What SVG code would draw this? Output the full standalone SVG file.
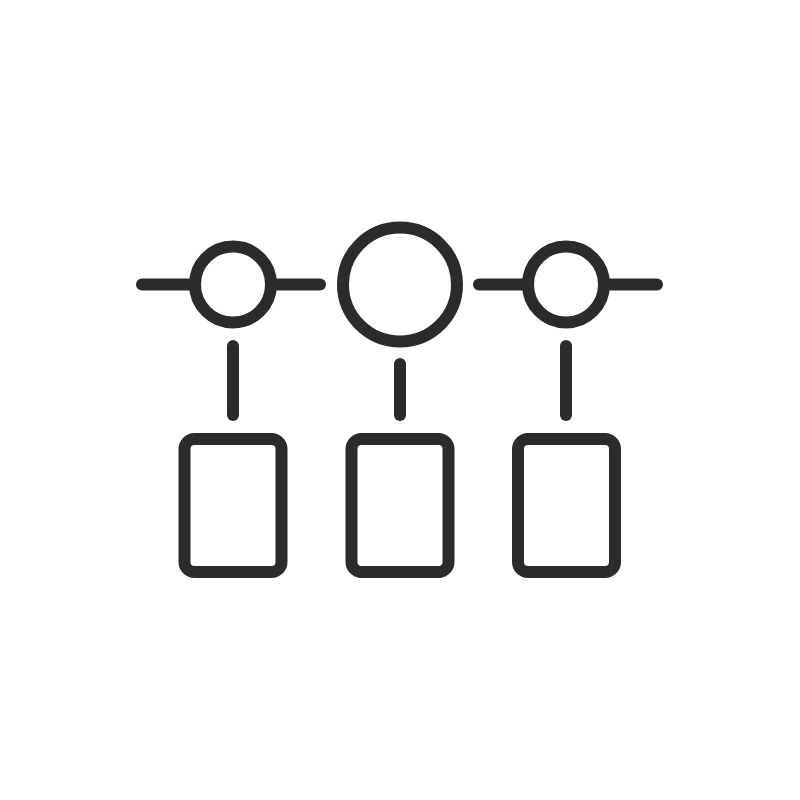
<svg xmlns="http://www.w3.org/2000/svg" width="800" height="800" viewBox="0 0 800 800">
<style>
.s{fill:none;stroke:#2b2b2b;stroke-width:12;stroke-linecap:round;stroke-linejoin:round}
</style>
<rect width="800" height="800" fill="#ffffff"/>
<g id="connectors" class="s">
<line x1="142" y1="284.5" x2="195" y2="284.5"/>
<line x1="271" y1="284.5" x2="320" y2="284.5"/>
<line x1="479" y1="284.5" x2="528" y2="284.5"/>
<line x1="604" y1="284.5" x2="657" y2="284.5"/>
<line x1="233" y1="346" x2="233" y2="415"/>
<line x1="400" y1="364" x2="400" y2="415"/>
<line x1="566" y1="346" x2="566" y2="415"/>
</g>
<g id="circle-left"><circle class="s" cx="233" cy="284.5" r="38"/></g>
<g id="circle-center"><circle class="s" cx="400" cy="284.5" r="57"/></g>
<g id="circle-right"><circle class="s" cx="566" cy="284.5" r="38"/></g>
<g id="box-left"><rect class="s" x="184.5" y="439" width="97" height="133" rx="10"/></g>
<g id="box-center"><rect class="s" x="351.5" y="439" width="97" height="133" rx="10"/></g>
<g id="box-right"><rect class="s" x="518" y="439" width="97" height="133" rx="10"/></g>
</svg>
